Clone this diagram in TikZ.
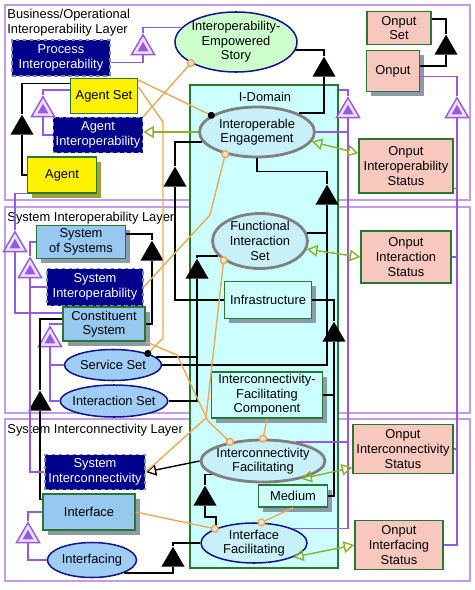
\documentclass[tikz,border=0pt]{standalone}
\usepackage{fontspec}
\setmainfont{Liberation Sans}
\usepackage{tikz}
\usetikzlibrary{shapes.geometric, arrows.meta, shadows, calc}
\definecolor{navyfill}{RGB}{0,0,140}
\definecolor{navydash}{RGB}{120,140,175}
\definecolor{boxgreen}{RGB}{40,120,50}
\definecolor{skyfill}{RGB}{150,200,240}
\definecolor{ovalsky}{RGB}{160,205,245}
\definecolor{cyanfill}{RGB}{204,255,255}
\definecolor{ovalcyan}{RGB}{200,240,248}
\definecolor{storyfill}{RGB}{204,255,204}
\definecolor{pinkfill}{RGB}{248,200,190}
\definecolor{ovalgrey}{RGB}{128,128,128}
\definecolor{ovalnavy}{RGB}{20,20,140}
\definecolor{layerpurple}{RGB}{195,155,235}
\definecolor{linepurple}{RGB}{150,90,220}
\definecolor{lavendr}{RGB}{236,222,250}
\definecolor{lineorange}{RGB}{232,170,90}
\definecolor{peach}{RGB}{250,225,200}
\definecolor{arrowgreen}{RGB}{140,175,50}
\definecolor{olivesh}{RGB}{160,160,60}
\definecolor{greysh}{RGB}{140,155,170}
\tikzstyle{layerframe} = [draw=layerpurple, line width=1.3pt]
\tikzstyle{layertitle} = [anchor=north west, inner sep=1pt, align=left]
\tikzstyle{idbox} = [rectangle, draw=boxgreen, line width=1.5pt, fill=cyanfill]
\tikzstyle{plainbox} = [rectangle, align=center, inner sep=1pt, line width=1.3pt, draw=boxgreen]
\tikzstyle{navybox} = [rectangle, align=center, inner sep=1pt, line width=1.2pt, draw=navydash, dashed, fill=navyfill, text=white]
\tikzstyle{yellowbox} = [plainbox, fill=yellow]
\tikzstyle{skybox} = [plainbox, fill=skyfill]
\tikzstyle{cyanbox} = [plainbox, fill=cyanfill]
\tikzstyle{pinkbox} = [plainbox, fill=pinkfill]
\tikzstyle{yshadow} = [drop shadow={shadow xshift=4pt, shadow yshift=-4pt, fill=olivesh, opacity=1}]
\tikzstyle{gshadow} = [drop shadow={shadow xshift=4pt, shadow yshift=-4pt, fill=greysh, opacity=1}]
\tikzstyle{ovalnode} = [ellipse, align=center, inner sep=-3pt, line width=1.3pt]
\tikzstyle{greyoval} = [ovalnode, draw=ovalgrey, line width=2.4pt, fill=ovalcyan]
\tikzstyle{navyoval} = [ovalnode, draw=ovalnavy, fill=ovalcyan]
\tikzstyle{skyoval} = [ovalnode, draw=ovalnavy, fill=ovalsky]
\tikzstyle{storyoval} = [ovalnode, draw=ovalnavy, fill=storyfill]
\tikzstyle{gentri} = [regular polygon, regular polygon sides=3, minimum size=0.8cm, inner sep=0pt, fill=black]
\tikzstyle{purptri} = [regular polygon, regular polygon sides=3, minimum size=0.8cm, inner sep=0pt, draw=linepurple, line width=1.2pt, fill=lavendr,
  path picture={\fill[linepurple] ([shift={(-4.6pt,2.9pt)}]path picture bounding box.south) -- ([shift={(4.6pt,2.9pt)}]path picture bounding box.south) -- ([shift={(0pt,11pt)}]path picture bounding box.south) -- cycle;}]
\tikzstyle{genline} = [line width=1.5pt, black]
\tikzstyle{memline} = [line width=1.2pt, linepurple]
\tikzstyle{compline} = [line width=1.2pt, lineorange, -{Circle[length=7pt, fill=peach]}, shorten >=-3.5pt]
\tikzstyle{compdot} = [line width=1.2pt, lineorange, -{Circle[length=6pt, color=black]}, shorten >=-3pt]
\tikzstyle{statusarrow} = [line width=1.2pt, arrowgreen, {Triangle[open, length=9pt, width=10pt]}-{Triangle[open, length=9pt, width=10pt]}]
\tikzstyle{inducearrow} = [line width=1.2pt, arrowgreen, -{Triangle[open, length=9pt, width=10pt]}]
\tikzstyle{linkarrow} = [line width=1.2pt, black, -{Triangle[open, length=9pt, width=10pt]}]

\begin{document}
\begin{tikzpicture}[x=0.03cm, y=-0.03cm, font=\fontsize{11}{12.5}\selectfont]
  \useasboundingbox (0,0) rectangle (474,590);
  \fill[white] (0,0) rectangle (474,590);
  % layers
  \draw[layerframe] (5,5) rectangle (470,200);
  \draw[layerframe] (5,207) rectangle (470,413);
  \draw[layerframe] (5,419) rectangle (470,581);
  \node (boltitle) [layertitle] at (6,8) {Business/Operational\\Interoperability Layer};
  \node (siltitle) [layertitle] at (6,211) {System Interoperability Layer};
  \node (scltitle) [layertitle] at (6,423) {System Interconnectivity Layer};
  \node (idomain) [idbox, minimum width=4.44cm, minimum height=14.49cm] at (264,326.5) {};
  \node (dtitle) at (265,97) {I-Domain};

  % business/operational layer
  \node (proc) [navybox, minimum width=2.94cm, minimum height=1.08cm] at (61,58) {Process\\Interoperability};
  \node (story) [storyoval, minimum width=3.66cm, minimum height=1.8cm] at (236,42) {Interoperability-\\Empowered\\Story};
  \node (agentset) [yellowbox, minimum width=2.01cm, minimum height=1.05cm] at (104,96) {Agent Set};
  \node (agentint) [navybox, minimum width=2.67cm, minimum height=1.05cm] at (98,135) {Agent\\Interoperability};
  \node (agent) [yellowbox, yshadow, minimum width=2.07cm, minimum height=1.08cm] at (62,175) {Agent};
  \node (onputset) [pinkbox, minimum width=1.92cm, minimum height=0.99cm] at (399,28) {Onput\\Set};
  \node (onput) [pinkbox, gshadow, minimum width=1.59cm, minimum height=1.23cm] at (393,71) {Onput};
  \node (engage) [greyoval, minimum width=3.45cm, minimum height=1.5cm] at (257,132) {Interoperable\\Engagement};
  \node (opstatus) [pinkbox, minimum width=2.82cm, minimum height=1.62cm] at (406,166) {Onput\\Interoperability\\Status};

  % system interoperability layer
  \node (sos) [skybox, gshadow, minimum width=2.67cm, minimum height=0.99cm] at (81,242) {System\\of Systems};
  \node (sysint) [navybox, minimum width=2.88cm, minimum height=1.11cm] at (95,287) {System\\Interoperability};
  \node (constit) [skybox, gshadow, minimum width=2.46cm, minimum height=1.02cm] at (104,324) {Constituent\\System};
  \node (service) [skyoval, minimum width=2.91cm, minimum height=0.93cm] at (113,365) {Service Set};
  \node (interact) [skyoval, minimum width=3.06cm, minimum height=0.96cm] at (114,401) {Interaction Set};
  \node (funcset) [greyoval, minimum width=2.85cm, minimum height=1.65cm] at (260,241) {Functional\\Interaction\\Set};
  \node (infra) [cyanbox, gshadow, minimum width=2.61cm, minimum height=1.11cm] at (268,300) {Infrastructure};
  \node (ifcomp) [cyanbox, gshadow, minimum width=3.33cm, minimum height=1.38cm] at (267,395) {Interconnectivity-\\Facilitating\\Component};
  \node (instatus) [pinkbox, minimum width=2.7cm, minimum height=1.56cm] at (406,257) {Onput\\Interaction\\Status};

  % system interconnectivity layer
  \node (sysconn) [navybox, minimum width=3.0cm, minimum height=1.05cm] at (95,472) {System\\Interconnectivity};
  \node (iface) [skybox, gshadow, minimum width=2.76cm, minimum height=1.08cm] at (89,512) {Interface};
  \node (ifacing) [skyoval, minimum width=2.67cm, minimum height=1.05cm] at (92,560) {Interfacing};
  \node (connfac) [greyoval, minimum width=3.72cm, minimum height=1.26cm] at (263,461) {Interconnectivity\\Facilitating};
  \node (medium) [cyanbox, gshadow, minimum width=2.07cm, minimum height=0.66cm] at (293,496) {Medium};
  \node (ifacefac) [navyoval, minimum width=3.18cm, minimum height=1.2cm] at (254,543) {Interface\\Facilitating};
  \node (icstatus) [pinkbox, minimum width=3.0cm, minimum height=1.47cm] at (403,449) {Onput\\Interconnectivity\\Status};
  \node (ifstatus) [pinkbox, minimum width=2.64cm, minimum height=1.47cm] at (399,545) {Onput\\Interfacing\\Status};

  % triangles
  \node (g1) [gentri] at (324,70) {};
  \node (g2) [gentri] at (446,48) {};
  \node (g3) [gentri] at (327,198) {};
  \node (g4) [gentri] at (197,272) {};
  \node (g5) [gentri] at (152,254) {};
  \node (g6) [gentri] at (22,128) {};
  \node (g7) [gentri] at (175,180) {};
  \node (g8) [gentri] at (334,335) {};
  \node (g9) [gentri] at (40,404) {};
  \node (g10) [gentri] at (205,499) {};
  \node (g11) [gentri] at (173,560) {};
  \node (q1) [purptri] at (143,48) {};
  \node (q2) [purptri] at (43,110) {};
  \node (q3) [purptri] at (15,245) {};
  \node (q4) [purptri] at (30,271) {};
  \node (q5) [purptri] at (50,340) {};
  \node (q6) [purptri] at (28,536) {};
  \node (q7) [purptri] at (348,111) {};
  \node (q8) [purptri] at (457,111) {};

  % black lines
  \draw [genline] (story.-8) -| (g1.north);
  \draw [genline] (g1.south) |- (engage.north east);
  \draw [genline] (onputset.15) -| (g2.north);
  \draw [genline] (g2.south) |- (onput.10);
  \draw [genline] (engage.south) -- ++(0,13) -| (g3.north);
  \draw [genline] (g3.south) |- (funcset.10);
  \draw [genline] (g3.south) |- (service.east);
  \draw [genline] (funcset.200) -| (g4.north);
  \draw [genline] (g4.south) |- (service.10);
  \draw [genline] (g4.south) |- (interact.east);
  \draw [genline] (sos.10) -| (g5.north);
  \draw [genline] (g5.south) |- (constit.east);
  \draw [genline] (agentset.160) -| (g6.north);
  \draw [genline] (g6.south) |- (agent.west);
  \draw [genline] (engage.190) -| (g7.north);
  \draw [genline] (g7.south) |- (infra.west);
  \draw [genline] (infra.east) -| (g8.north);
  \draw [genline] (g8.south) |- (ifcomp.east);
  \draw [genline] (g8.south) |- (medium.east);
  \draw [genline] (constit.173) -| (g9.north);
  \draw [genline] (g9.south) |- (iface.165);
  \draw [genline] (connfac.195) -| (g10.north);
  \draw [genline] (g10.south) -- ++(0,11) -| (ifacefac.north west);
  \draw [genline] (ifacefac.west) -| (g11.north);
  \draw [genline] (g11.south) |- (ifacing.south east);
  \draw [linkarrow] (connfac.west) -- (sysconn.east);

  % purple lines
  \draw [memline] (proc.-5) -| (q1.south);
  \draw [memline] (q1.north) |- (story.165);
  \draw [memline] (agentint.west) -| (q2.south);
  \draw [memline] (q2.north) |- (agentset.170);
  \draw [memline] (agent.south west) -| (q3.north);
  \draw [memline] (q3.south) |- (constit.165);
  \draw [memline] (sos.west) -| (q4.north);
  \draw [memline] (q4.south) |- (sysint.west);
  \draw [memline] (q4.south) |- (sysconn.west);
  \draw [memline] (constit.west) -| (q5.north);
  \draw [memline] (q5.south) |- (service.west);
  \draw [memline] (q5.south) |- (interact.west);
  \draw [memline] (iface.west) -| (q6.north);
  \draw [memline] (q6.south) |- (ifacing.west);
  \draw [memline] (q7.north) |- ([yshift=-5pt]idomain.north east);
  \draw [memline] (q7.south) |- (engage.east);
  \draw [memline] (q7.south) |- (connfac.30);
  \draw [memline] (q7.south) |- (ifacefac.20);
  \draw [memline] (onput.-12) -| (q8.north);
  \draw [memline] (q8.south) |- (opstatus.-25);
  \draw [memline] (q8.south) |- (instatus.east);
  \draw [memline] (q8.south) |- (icstatus.east);
  \draw [memline] (q8.south) |- (ifstatus.east);

  % orange lines
  \draw [compline] (agentint.north east) -- (story.205);
  \draw [compdot] (agentset.25) -- (engage.160);
  \draw [compdot] (agentset.15) -- (163,122) -- (163,338) -- (service.north east);
  \draw [compline] (sysint.east) -- (210,215) -- (engage.215);
  \draw [compline] (sysconn.east) -- (206,418) -- (funcset.208);
  \draw [compline] (constit.south east) -- (177,355) -- (208,421) -- (connfac.150);
  \draw [compline] (ifcomp.south) -- (connfac.north);
  \draw [compline] (medium.south) -- (ifacefac.70);
  \draw [compline] (iface.east) -- (ifacefac.160);

  % green arrows
  \draw [inducearrow] (engage.west) -- (agentint.east |- engage.west);
  \draw [statusarrow] (engage.-10) -- (opstatus.165);
  \draw [statusarrow] (funcset.-10) -- (instatus.west);
  \draw [statusarrow] (connfac.-25) -- (icstatus.200);
  \draw [statusarrow] (ifacefac.-20) -- (ifstatus.west);
\end{tikzpicture}
\end{document}
